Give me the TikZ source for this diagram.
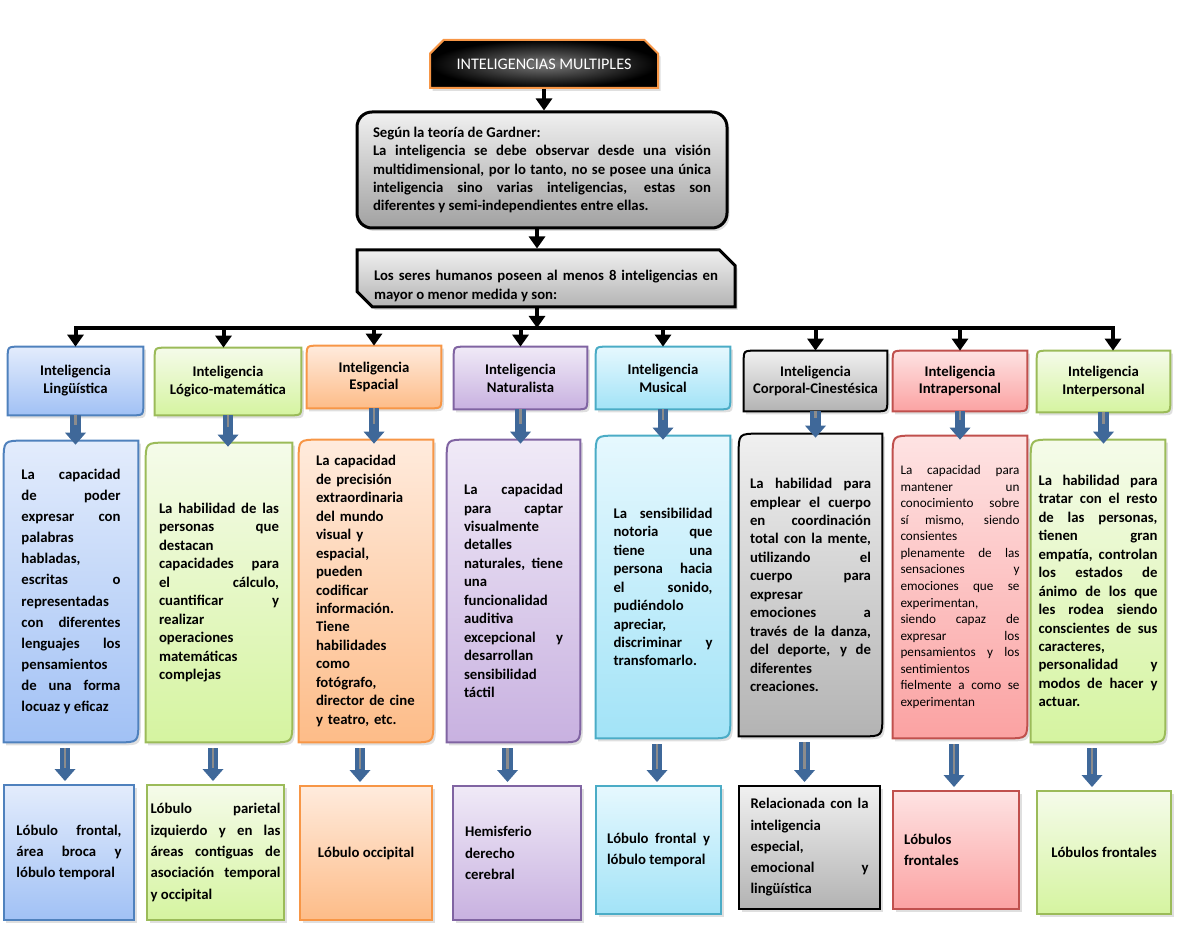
\documentclass[tikz,border=0pt]{standalone}
\usepackage{fontspec}
\setmainfont{Carlito}
\usetikzlibrary{arrows.meta,backgrounds,shadows,shapes.misc}
\definecolor{bluLine}{HTML}{4F81BD}
\definecolor{bluTop}{HTML}{E3ECFC}
\definecolor{bluBot}{HTML}{A1C1F5}
\definecolor{grnLine}{HTML}{9BBB59}
\definecolor{grnTop}{HTML}{F5FBEA}
\definecolor{grnBot}{HTML}{D5F4A0}
\definecolor{orgLine}{HTML}{F79646}
\definecolor{orgTop}{HTML}{FFEBDD}
\definecolor{orgBot}{HTML}{FDBC88}
\definecolor{purLine}{HTML}{8064A2}
\definecolor{purTop}{HTML}{F0EAF7}
\definecolor{purBot}{HTML}{C8B1E0}
\definecolor{cyaLine}{HTML}{4BACC6}
\definecolor{cyaTop}{HTML}{E6F8FE}
\definecolor{cyaBot}{HTML}{A2E3F7}
\definecolor{gryLine}{HTML}{000000}
\definecolor{gryTop}{HTML}{F0F0F0}
\definecolor{gryBot}{HTML}{B3B3B3}
\definecolor{redLine}{HTML}{C0504D}
\definecolor{redTop}{HTML}{FEE3E3}
\definecolor{redBot}{HTML}{FBA2A2}
\definecolor{arwColor}{HTML}{3F6899}
\newcommand{\hdf}{\fontsize{8.4}{10.2}\selectfont\bfseries}
\newcommand{\dsf}{\fontsize{8.4}{10.5}\selectfont\bfseries}
\newcommand{\lwf}{\fontsize{8.4}{12.1}\selectfont\bfseries}
% box with the top left and bottom right corners rounded
\newcommand{\rdbox}[3]{\path[draw=#3Line, line width=0.4mm, top color=#3Top, bottom color=#3Bot, shd]
	([yshift=-#2]#1.north west) .. controls (#1.north west) .. ([xshift=#2]#1.north west)
	-- (#1.north east) -- ([yshift=#2]#1.south east)
	.. controls (#1.south east) .. ([xshift=-#2]#1.south east)
	-- (#1.south west) -- cycle;}
\tikzset{
	conn/.style={draw=black, line width=0.8mm, -{Triangle[length=2.4mm,width=3.2mm]}},
	blk/.style={draw=arwColor, line width=2.1mm, -{Triangle[length=2.4mm,width=4.2mm,line width=0pt]},
		postaction={draw=black!45, line width=0.5mm, -, shorten >=3.2mm}},
	shd/.style={drop shadow={shadow xshift=0.5mm,shadow yshift=-0.6mm,opacity=0.25}},
	headbox/.style={inner sep=0pt, align=center, font=\hdf},
	descbox/.style={inner sep=0pt, text width=#1, align=justify, font=\dsf},
	lowbox/.style={draw=#1Line, line width=0.4mm, top color=#1Top, bottom color=#1Bot, shd, inner sep=0pt, font=\lwf}
}

\begin{document}
\begin{tikzpicture}[x=0.2mm, y=-0.2mm]
	\useasboundingbox (0,0) rectangle (1200,927);
	\node[chamfered rectangle, chamfered rectangle corners={north west,north east}, chamfered rectangle xsep=1.6mm,
		draw=orgLine, line width=0.4mm, inner color=black!52, outer color=black, shd,
		minimum width=45.6mm, minimum height=9.6mm, text=white, font=\fontsize{9.2}{11}\selectfont] (title) at (544,64) {INTELIGENCIAS MULTIPLES};
	\node[draw=black, line width=0.6mm, rounded corners=3mm, top color=gryTop, bottom color=gryBot!90!black, shd,
		minimum width=74mm, minimum height=23.2mm, inner sep=0pt, text width=67.6mm, align=justify, font=\dsf] (gardner) at (542,170) {Según la teoría de Gardner:\\
		La inteligencia se debe observar desde una visión\linebreak
		multidimensional, por lo tanto, no se posee una única\linebreak
		inteligencia sino varias inteligencias, estas son\linebreak
		diferentes y semi-independientes entre ellas.};
	\node[chamfered rectangle, chamfered rectangle corners={north east,south west}, chamfered rectangle xsep=2mm,
		draw=black, line width=0.6mm, top color=gryTop, bottom color=gryBot, shd,
		minimum width=75.6mm, minimum height=11.4mm, inner sep=0pt, text width=68.8mm, align=justify, font=\dsf] (seres) at (546,278.5) {\rule{0pt}{5mm}Los seres humanos poseen al menos 8 inteligencias en\linebreak mayor o menor medida y son:};
	\coordinate (bus) at (537,328);

	% the eight intelligences
	\node[headbox, minimum width=27mm, minimum height=13.6mm] (h1) at (75.5,381) {Inteligencia\\Lingüística};
	\node[headbox, minimum width=29.2mm, minimum height=13.4mm] (h2) at (228,381.5) {Inteligencia\\Lógico-matemática};
	\node[headbox, minimum width=26.8mm, minimum height=12.4mm] (h3) at (374,377) {Inteligencia\\Espacial};
	\node[headbox, minimum width=26.6mm, minimum height=12.4mm] (h4) at (520.5,378) {Inteligencia\\Naturalista};
	\node[headbox, minimum width=26.8mm, minimum height=12.4mm] (h5) at (663,378) {Inteligencia\\Musical};
	\node[headbox, minimum width=28.6mm, minimum height=12mm] (h6) at (815.5,381) {Inteligencia\\Corporal-Cinestésica};
	\node[headbox, minimum width=26.8mm, minimum height=12mm] (h7) at (960,381) {Inteligencia\\Intrapersonal};
	\node[headbox, minimum width=26.6mm, minimum height=12.2mm] (h8) at (1103.5,381.5) {Inteligencia\\Interpersonal};

	\node[descbox=19.8mm, font=\fontsize{8.4}{12}\selectfont\bfseries, minimum width=26.8mm, minimum height=60.2mm] (d1) at (71,591.5) {La capacidad\linebreak de poder\linebreak expresar con\linebreak palabras\linebreak habladas,\linebreak escritas o\linebreak representadas\linebreak con diferentes\linebreak lenguajes los\linebreak pensamientos\linebreak de una forma\linebreak locuaz y eficaz};
	\node[descbox=24mm, minimum width=29.2mm, minimum height=59.8mm] (d2) at (219,592.5) {La habilidad de las\linebreak personas que\linebreak destacan\linebreak capacidades para\linebreak el cálculo,\linebreak cuantificar y\linebreak realizar\linebreak operaciones\linebreak matemáticas\linebreak complejas};
	\node[descbox=20mm, align=left, minimum width=26.8mm, minimum height=60.4mm] (d3) at (366,591) {La capacidad\\de precisión\\extraordinaria\\del mundo\\visual y\\espacial,\\pueden\\codificar\\información.\\Tiene\\habilidades\\como\\fotógrafo,\\director de cine\\y teatro, etc.};
	\node[descbox=19.8mm, minimum width=26.6mm, minimum height=60.4mm] (d4) at (513.5,591) {La capacidad\linebreak para captar\linebreak visualmente\linebreak detalles\linebreak naturales, tiene\linebreak una\linebreak funcionalidad\linebreak auditiva\linebreak excepcional y\linebreak desarrollan\linebreak sensibilidad\linebreak táctil};
	\node[descbox=19.8mm, minimum width=26.8mm, minimum height=60.4mm] (d5) at (663,587) {La sensibilidad\linebreak notoria que\linebreak tiene una\linebreak persona hacia\linebreak el sonido,\linebreak pudiéndolo\linebreak apreciar,\linebreak discriminar y\linebreak transfomarlo.};
	\node[descbox=24.2mm, minimum width=28.6mm, minimum height=60.4mm] (d6) at (810.5,585) {La habilidad para\linebreak emplear el cuerpo\linebreak en coordinación\linebreak total con la mente,\linebreak utilizando el\linebreak cuerpo para\linebreak expresar\linebreak emociones a\linebreak través de la danza,\linebreak del deporte, y de\linebreak diferentes\linebreak creaciones.};
	\node[descbox=23.8mm, font=\fontsize{7.5}{9.4}\selectfont, minimum width=26.8mm, minimum height=60.4mm] (d7) at (960,587) {La capacidad para\linebreak mantener un\linebreak conocimiento sobre\linebreak sí mismo, siendo\linebreak consientes\linebreak plenamente de las\linebreak sensaciones y\linebreak emociones que se\linebreak experimentan,\linebreak siendo capaz de\linebreak expresar los\linebreak pensamientos y los\linebreak sentimientos\linebreak fielmente a como se\linebreak experimentan};
	\node[descbox=23.8mm, minimum width=26.8mm, minimum height=60.4mm] (d8) at (1098,591) {La habilidad para\linebreak tratar con el resto\linebreak de las personas,\linebreak tienen gran\linebreak empatía, controlan\linebreak los estados de\linebreak ánimo de los que\linebreak les rodea siendo\linebreak conscientes de sus\linebreak caracteres,\linebreak personalidad y\linebreak modos de hacer y\linebreak actuar.};

	\node[lowbox=blu, text width=21mm, align=justify, minimum width=26mm, minimum height=27mm] (b1) at (69,852.5) {Lóbulo frontal,\linebreak área broca y\linebreak lóbulo temporal};
	\node[lowbox=grn, text width=26mm, align=justify, minimum width=27.4mm, minimum height=27mm] (b2) at (215.5,852.5) {Lóbulo parietal\linebreak izquierdo y en las\linebreak áreas contiguas de\linebreak asociación temporal\linebreak y occipital};
	\node[lowbox=org, minimum width=26.4mm, minimum height=26.8mm] (b3) at (366,853) {Lóbulo occipital};
	\node[lowbox=pur, text width=20.8mm, align=left, minimum width=25.6mm, minimum height=26.8mm] (b4) at (517,853) {Hemisferio\\derecho\\cerebral};
	\node[lowbox=cya, text width=20.6mm, align=justify, minimum width=25mm, minimum height=25.6mm] (b5) at (658.5,850) {Lóbulo frontal y\linebreak lóbulo temporal};
	\node[lowbox=gry, text width=23.6mm, align=justify, minimum width=28.2mm, minimum height=24.6mm] (b6) at (809.5,847.5) {Relacionada con la\linebreak inteligencia\linebreak especial,\linebreak emocional y\linebreak lingüística};
	\node[lowbox=red, text width=20.8mm, align=left, minimum width=25.2mm, minimum height=23.6mm] (b7) at (956,850) {Lóbulos\\frontales};
	\node[lowbox=grn, minimum width=26.8mm, minimum height=24.6mm] (b8) at (1104,852.5) {Lóbulos frontales};

	\begin{scope}[on background layer]
		\rdbox{h1}{2.4mm}{blu} \rdbox{d1}{4.2mm}{blu}
		\rdbox{h2}{2.4mm}{grn} \rdbox{d2}{4.2mm}{grn}
		\rdbox{h3}{2.4mm}{org} \rdbox{d3}{4.2mm}{org}
		\rdbox{h4}{2.4mm}{pur} \rdbox{d4}{4.2mm}{pur}
		\rdbox{h5}{2.4mm}{cya} \rdbox{d5}{4.2mm}{cya}
		\rdbox{h6}{2.4mm}{gry} \rdbox{d6}{4.2mm}{gry}
		\rdbox{h7}{2.4mm}{red} \rdbox{d7}{4.2mm}{red}
		\rdbox{h8}{2.4mm}{grn} \rdbox{d8}{4.2mm}{grn}
	\end{scope}

	\draw[conn] (title.south) -- (title.south |- gardner.north);
	\draw[conn] (gardner.south -| bus) -- (seres.north -| bus);
	\draw[conn] (seres.south -| bus) -- (bus);
	\draw[conn] (bus) -| (h1.north);
	\draw[conn] (bus) -| ([xshift=-0.9mm]h2.north);
	\draw[conn] (bus) -| (h3.north);
	\draw[conn] (bus) -| (h4.north);
	\draw[conn] (bus) -| (h5.north);
	\draw[conn] (bus) -| (h6.north);
	\draw[conn] (bus) -| (h7.north);
	\draw[conn] (bus) -| ([xshift=1.9mm]h8.north);

	\draw[blk, shorten >=-0.8mm] (h1.south) -- (h1.south |- d1.north);
	\draw[blk, shorten >=-0.8mm] (h2.south) -- (h2.south |- d2.north);
	\draw[blk, shorten >=-0.8mm] (h3.south) -- (h3.south |- d3.north);
	\draw[blk, shorten >=-0.8mm] (h4.south) -- (h4.south |- d4.north);
	\draw[blk, shorten >=-0.8mm] (h5.south) -- (h5.south |- d5.north);
	\draw[blk, shorten >=-0.8mm] (h6.south) -- (h6.south |- d6.north);
	\draw[blk, shorten >=-0.8mm] (h7.south) -- (h7.south |- d7.north);
	\draw[blk, shorten >=-0.8mm] (h8.south) -- (h8.south |- d8.north);

	\draw[blk, shorten <=1.2mm, shorten >=0.6mm] ([xshift=-1.2mm]d1.south) -- ([xshift=-1.2mm]d1.south |- b1.north);
	\draw[blk, shorten <=1.2mm, shorten >=0.6mm] ([xshift=-1.2mm]d2.south) -- ([xshift=-1.2mm]d2.south |- b2.north);
	\draw[blk, shorten <=1.2mm, shorten >=0.6mm] ([xshift=-1.2mm]d3.south) -- ([xshift=-1.2mm]d3.south |- b3.north);
	\draw[blk, shorten <=1.2mm, shorten >=0.6mm] ([xshift=-1.2mm]d4.south) -- ([xshift=-1.2mm]d4.south |- b4.north);
	\draw[blk, shorten <=1.2mm, shorten >=0.6mm] ([xshift=-1.2mm]d5.south) -- ([xshift=-1.2mm]d5.south |- b5.north);
	\draw[blk, shorten <=1.2mm, shorten >=0.6mm] ([xshift=-1.2mm]d6.south) -- ([xshift=-1.2mm]d6.south |- b6.north);
	\draw[blk, shorten <=1.2mm, shorten >=0.6mm] ([xshift=-1.2mm]d7.south) -- ([xshift=-1.2mm]d7.south |- b7.north);
	\draw[blk, shorten <=1.2mm, shorten >=0.6mm] ([xshift=-1.2mm]d8.south) -- ([xshift=-1.2mm]d8.south |- b8.north);
\end{tikzpicture}
\end{document}
